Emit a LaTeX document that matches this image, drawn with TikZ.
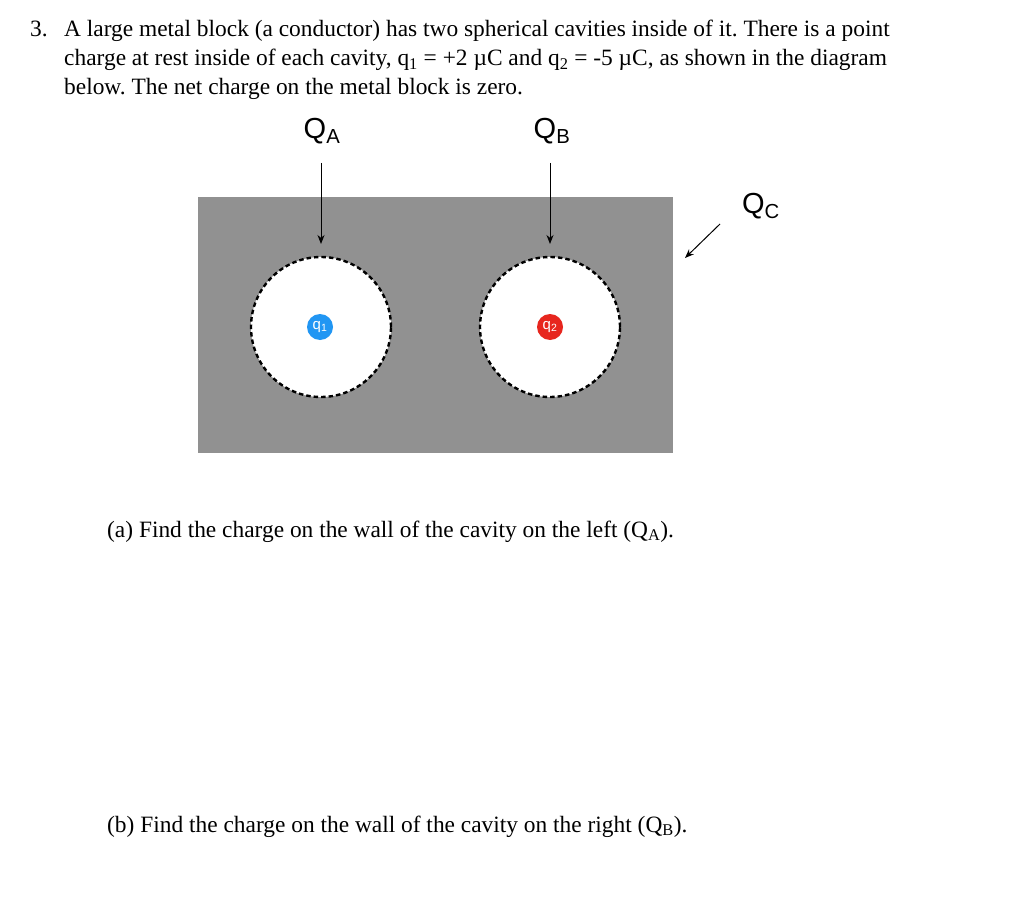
\documentclass[tikz,border=0pt]{standalone}
\usepackage{fontspec}
\usetikzlibrary{arrows.meta}
\setmainfont{Liberation Serif}
\newfontfamily\arialf{Liberation Sans}
\begin{document}
\frenchspacing
\begin{tikzpicture}[x=1pt,y=-1pt,
  txt/.style={anchor=base west,inner sep=0pt,font=\fontsize{23.4}{28}\selectfont},
  lab/.style={inner sep=0pt,font=\arialf\fontsize{29}{32}\selectfont},
  cav/.style={draw=black,fill=white,line width=2.4pt,dash pattern=on 4.5pt off 3pt},
  chg/.style={circle,minimum size=26pt,inner sep=0pt,text=white,font=\arialf\fontsize{15}{15}\selectfont},
  arr/.style={-{Stealth[length=9pt,width=7pt]},line width=1pt}]
\useasboundingbox (0,0) rectangle (1024,901);
\definecolor{metal}{RGB}{145,145,145}
\definecolor{qblue}{RGB}{33,150,243}
\definecolor{qred}{RGB}{231,38,30}
\node[txt] (n3) at (30,37) {3.};
\node[txt] (l1) at (64,37) {A large metal block (a conductor) has two spherical cavities inside of it. There is a point};
\node[txt] (l2) at (64,66) {charge at rest inside of each cavity, q\textsubscript{1} = +2 µC and q\textsubscript{2} = -5 µC, as shown in the diagram};
\node[txt] (l3) at (64,95) {below. The net charge on the metal block is zero.};
\fill[metal] (198,197) rectangle (673,453);
\node[cav,circle,minimum size=140pt,inner sep=0pt] (cA) at (321,327) {};
\node[cav,circle,minimum size=140pt,inner sep=0pt] (cB) at (550,327) {};
\node[chg,fill=qblue] (q1) at (320,327) {q\textsubscript{1}};
\node[chg,fill=qred] (q2) at (550,327) {q\textsubscript{2}};
\node[lab] (QA) at (322,131) {Q\textsubscript{A}};
\node[lab] (QB) at (552,131) {Q\textsubscript{B}};
\node[lab] (QC) at (761,206) {Q\textsubscript{C}};
\coordinate (a1) at (321,163); \coordinate (a2) at (321,244);
\coordinate (b1) at (550,163); \coordinate (b2) at (550,244);
\coordinate (c1) at (720,224); \coordinate (c2) at (685,258);
\draw[arr] (a1) -- (a2);
\draw[arr] (b1) -- (b2);
\draw[arr] (c1) -- (c2);
\node[txt] (pa) at (107,537) {(a) Find the charge on the wall of the cavity on the left (Q\textsubscript{A}).};
\node[txt] (pb) at (107,832) {(b) Find the charge on the wall of the cavity on the right (Q\textsubscript{B}).};
\end{tikzpicture}
\end{document}
